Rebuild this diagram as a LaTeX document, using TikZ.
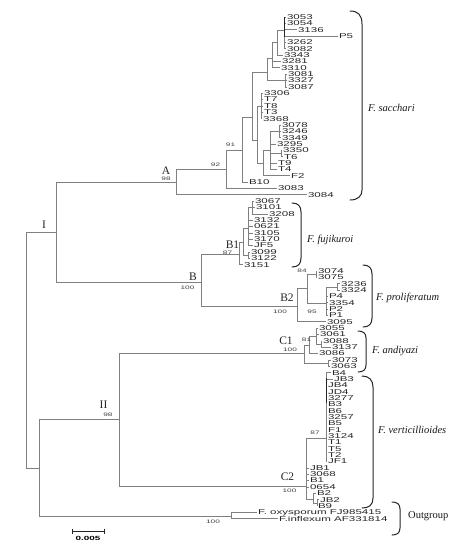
\documentclass[tikz,border=0pt]{standalone}
\usepackage{fontspec}
\setmainfont{Liberation Serif}
\newfontfamily\leaffont[FakeStretch=1.65]{Liberation Sans}
\newcommand\LY[1]{(17+6.35*(#1))}
\tikzset{
 br/.style={draw=black!50, line width=0.7pt},
 dk/.style={draw=black!85, line width=0.9pt},
 lf/.style={anchor=west, inner sep=0.8pt, font=\leaffont\fontsize{7}{7}\selectfont, text=black!85},
 bs/.style={inner sep=0pt, font=\leaffont\fontsize{5}{5}\selectfont, text=black!75},
 cl/.style={inner sep=0pt, font=\fontsize{11.5}{11.5}\selectfont, text=black!85},
 sp/.style={anchor=west, inner sep=0pt, font=\itshape\fontsize{10.5}{10.5}\selectfont, text=black!90},
 brk/.style={draw=black!85, line width=1pt, line cap=round},
}
\begin{document}
\begin{tikzpicture}[x=1pt,y=-1pt]
\useasboundingbox[fill=white] (0,0) rectangle (474,552);
% internal nodes
\coordinate (R) at (26,350);
\coordinate (I) at (56,232);
\coordinate (A) at (176,182);
\coordinate (n92) at (226,169);
\coordinate (n91) at (242,150);
\coordinate (N1) at (252,117);
\coordinate (E) at (267,72);
\coordinate (c) at (272,58);
\coordinate (b) at (277,42);
\coordinate (a) at (284,30);
\coordinate (d) at (285,80.5);
\coordinate (L) at (257,140);
\coordinate (f) at (261,106);
\coordinate (h) at (263,163);
\coordinate (g) at (270,150);
\coordinate (g1) at (279,131.3);
\coordinate (g2) at (281,153.5);
\coordinate (B) at (201,282);
\coordinate (B1) at (239,254);
\coordinate (F1a) at (243,242);
\coordinate (Fm) at (248,228);
\coordinate (Ft) at (252,207.5);
\coordinate (Fl) at (248,255);
\coordinate (B2) at (297,306);
\coordinate (N84) at (307,288.5);
\coordinate (Pa) at (316,274.3);
\coordinate (Pc) at (326,303);
\coordinate (Pb) at (337,287);
\coordinate (N39) at (39,468);
\coordinate (II) at (119,419);
\coordinate (C1) at (304,353);
\coordinate (N81) at (309,345);
\coordinate (Caa) at (316,336);
\coordinate (Cab) at (321,344);
\coordinate (Cb) at (328,363);
\coordinate (C2) at (306,486);
\coordinate (V) at (326,438);
\coordinate (Vl) at (313,499);
\coordinate (Vj) at (317,503);
\coordinate (OG) at (231,516);
% leaves
\foreach \i/\x/\t in {0/286/3053,1/286/3054,2/297/3136,3/338/P5,4/286/3262,5/286/3082,
  6/283/3343,7/281/3281,8/280/3310,9/287/3081,10/287/3327,11/287/3087,
  12/263/3306,13/263/T7,14/263/T8,15/263/T3,16/262/3368,17/281/3078,18/281/3246,
  19/281/3349,20/276/3295,21/282/3350,22/283/T6,23/277/T9,24/277/T4,25/290/F2,
  26/248/B10,27/277/3083,28/307/3084,
  29/254/3067,30/255/3101,31/268/3208,32/253/3132,33/253/0621,34/253/3105,35/253/3170,
  36/253/JF5,37/250/3099,38/250/3122,39/243/3151,
  40/317/3074,41/317/3075,42/340/3236,43/340/3324,44/328/P4,45/328/3354,46/328/P2,
  47/328/P1,48/326/3095,
  49/318/3055,50/319/3061,51/322/3088,52/331/3137,53/318/3086,54/331/3073,55/330/3063,
  56/331/B4,57/333/JB3,58/327/JB4,59/327/JD4,60/327/3277,61/327/B3,62/327/B6,63/327/3257,
  64/327/B5,65/327/F1,66/327/3124,67/327/T1,68/327/T5,69/327/T2,70/327/JF1,
  71/309/JB1,72/309/3068,73/309/B1,74/309/0654,75/316/B2,76/319/JB2,77/317/B9,
  78/257/{F.  oxysporum FJ985415},79/278/{F.inflexum AF331814}}
  \node[lf] (l\i) at (\x,{\LY{\i}}) {\t};
% internal edges
\foreach \p/\c in {R/I,R/N39,I/A,I/B,A/n92,n92/n91,n91/N1,N1/E,N1/L,E/c,E/d,c/b,b/a,
  L/f,L/h,h/g,g/g1,g/g2,B/B1,B/B2,B1/F1a,F1a/Fm,F1a/Fl,Fm/Ft,B2/N84,N84/Pa,N84/Pc,Pc/Pb,
  N39/II,N39/OG,II/C1,II/C2,C1/N81,C1/Cb,N81/Caa,Caa/Cab,C2/V,C2/Vl,Vl/Vj}
  \draw[br] (\p) |- (\c);
% leaf edges
\foreach \p/\c in {a/0,a/1,a/2,a/3,a/4,a/5,b/6,c/7,c/8,d/9,d/10,d/11,
  f/12,f/13,f/14,f/15,f/16,g1/17,g1/18,g1/19,g/20,g2/21,g2/22,g/23,g/24,h/25,
  n91/26,n92/27,A/28,
  Ft/29,Ft/30,Ft/31,Fm/32,Fm/33,Fm/34,Fm/35,Fm/36,Fl/37,Fl/38,B1/39,
  Pa/40,Pa/41,Pb/42,Pb/43,Pc/44,Pc/45,Pc/46,Pc/47,B2/48,
  Caa/49,Caa/50,Cab/51,Cab/52,N81/53,Cb/54,Cb/55,
  V/56,V/57,V/58,V/59,V/60,V/61,V/62,V/63,V/64,V/65,V/66,V/67,V/68,V/69,V/70,
  C2/71,C2/72,C2/73,C2/74,Vl/75,Vj/76,Vj/77,OG/78,OG/79}
  \draw[br] (\p) |- (l\c.west);
\draw[dk] (a) ++(0,-13) -- ++(0,20);
\draw[dk] (V) ++(0,-60) -- ++(0,25);
% clade and bootstrap labels
\node[cl] (tA) at (166,171) {A};
\node[bs] (bA) at (166,178.5) {98};
\node[bs] (b92) at (215.5,165) {92};
\node[bs] (b91) at (230.5,145) {91};
\node[cl] (tI) at (44,225) {I};
\node[cl] (tB1) at (232.5,244.5) {B1};
\node[bs] (b87a) at (227.5,253) {87};
\node[cl] (tB) at (193,277) {B};
\node[bs] (bB) at (187.5,287.5) {100};
\node[cl] (tII) at (103.5,405) {II};
\node[bs] (bII) at (108,415) {98};
\node[cl] (tB2) at (287,298) {B2};
\node[bs] (bB2) at (280,312) {100};
\node[bs] (b84) at (302,271) {84};
\node[bs] (b95) at (312,312) {95};
\node[cl] (tC1) at (286,340.5) {C1};
\node[bs] (b81) at (306.5,340) {81};
\node[bs] (bC1) at (290,349.3) {100};
\node[cl] (tC2) at (287.5,477) {C2};
\node[bs] (bC2) at (289.5,490.5) {100};
\node[bs] (b87b) at (315,433) {87};
\node[bs] (bOG) at (213,522) {100};
% brackets
\draw[brk] (350,11) .. controls (358,11) and (362,15) .. (362,24) -- (362,190) .. controls (362,196) and (358,200) .. (350,200);
\draw[brk] (292,203) .. controls (298,203) and (301,206) .. (301,212) -- (301,258) .. controls (301,264) and (298,267) .. (292,267);
\draw[brk] (363,265) .. controls (369,265) and (372,268) .. (372,274) -- (372,318) .. controls (372,324) and (369,327) .. (363,327);
\draw[brk] (358,331) .. controls (363,331) and (366,333) .. (366,338) -- (366,365) .. controls (366,370) and (363,372) .. (358,372);
\draw[brk] (362,376) .. controls (369,376) and (373,380) .. (373,387) -- (373,498) .. controls (373,505) and (369,508) .. (362,508);
\draw[brk] (392,502) .. controls (397,502) and (400,504) .. (400,509) -- (400,528) .. controls (400,533) and (397,535) .. (392,535);
\node[sp] (sS) at (368,108) {F. sacchari};
\node[sp] (sF) at (307,240) {F. fujikuroi};
\node[sp] (sP) at (376,298) {F. proliferatum};
\node[sp] (sA) at (372,351) {F. andiyazi};
\node[sp] (sV) at (378,430) {F. verticillioides};
\node[sp,font=\fontsize{10.5}{10.5}\selectfont] (sO) at (408,516) {Outgroup};
% scale bar
\coordinate (s1) at (72,531);
\coordinate (s2) at (104,531);
\draw[dk, line width=0.8pt] (s1) -- (s2);
\draw[dk, line width=0.8pt] (s1) ++(0,-2.5) -- ++(0,5);
\draw[dk, line width=0.8pt] (s2) ++(0,-2.5) -- ++(0,5);
\node[inner sep=0pt, font=\leaffont\bfseries\fontsize{6}{6}\selectfont] (sl) at (88,538) {0.005};
\end{tikzpicture}
\end{document}
